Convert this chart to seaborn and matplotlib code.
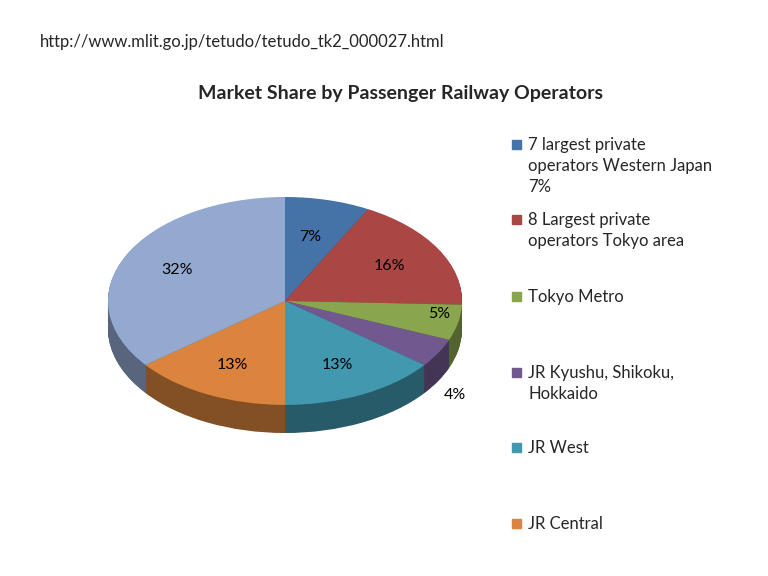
import matplotlib
matplotlib.use("Agg")
import matplotlib.pyplot as plt
import matplotlib.colors as mc
import seaborn as sns

sns.set_theme(style="white")
plt.rcParams['font.family'] = ['Lato', 'DejaVu Sans']

labels = ["7 largest private\noperators Western Japan\n7%", "8 Largest private\noperators Tokyo area",
          "Tokyo Metro", "JR Kyushu, Shikoku,\nHokkaido", "JR West", "JR Central", "JR East"]
values = [7, 16, 5, 4, 13, 13, 32]
colors = ["#4573A7", "#AA4644", "#89A54E", "#71588F", "#4298AF", "#DB843D", "#93A9CF"]
legend_y = [145, 220, 297, 373, 448, 524]

fig = plt.figure(figsize=(7.68, 5.76), dpi=100)
ax = fig.add_axes([108/768, 143/576, 354/768, 236/576])
depth = 0.27
dark = [tuple(c*0.6 for c in mc.to_rgb(col)) for col in colors]
n = 40
for k in range(n, 0, -1):
    ax.pie(values, colors=dark, startangle=90, counterclock=False,
           center=(0, -depth*k/n), wedgeprops=dict(linewidth=0))
wedges, texts, autotexts = ax.pie(values, colors=colors, startangle=90, counterclock=False,
       autopct="%1.0f", pctdistance=0.68, wedgeprops=dict(linewidth=0),
       textprops=dict(fontsize=11.5, color="black"))
for t, v in zip(autotexts, values):
    t.set_text(f"{v}%")
autotexts[3].set_position((0.96, -0.9))
autotexts[0].set_position((0.14, 0.62))
autotexts[2].set_position((0.87, -0.13))
ax.set_aspect('auto')
ax.set_xlim(-1, 1)
ax.set_ylim(-1 - depth, 1)
ax.axis('off')

fig.text(40/768, 1 - 42/576, "http://www.mlit.go.jp/tetudo/tetudo_tk2_000027.html",
         fontsize=12, va='center', ha='left')
fig.text(400/768, 1 - 93/576, "Market Share by Passenger Railway Operators",
         fontsize=14, fontweight='bold', va='center', ha='center')

for lab, col, y in zip(labels, colors, legend_y):
    fig.patches.append(plt.Rectangle(((512)/768, 1 - (y + 4)/576), 9/768, 9/576,
                                     color=col, transform=fig.transFigure, figure=fig))
    fig.text(528/768, 1 - (y - 8)/576, lab, fontsize=12, va='top', ha='left', linespacing=1.4)

fig.savefig("out.png", dpi=100)
